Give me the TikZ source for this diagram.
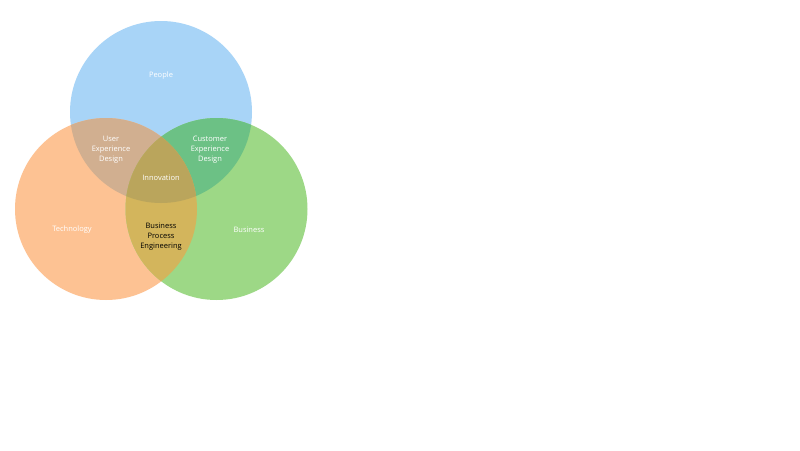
\documentclass[tikz,border=0pt]{standalone}
\usepackage{fontspec}
\setmainfont{Open Sans}
\usepackage{tikz}
\newcommand{\vennradius}{91}
\definecolor{myBlue}{HTML}{A8D4F7}
\definecolor{myOrange}{HTML}{FDC293}
\definecolor{myGreen}{HTML}{9DD886}
\definecolor{myBlueOrange}{HTML}{D1AF90}
\definecolor{myBlueGreen}{HTML}{6CC185}
\definecolor{myOrangeGreen}{HTML}{D3B55C}
\definecolor{myAll}{HTML}{BAA55C}
\usetikzlibrary{positioning}
\tikzset{
  x=1pt,y=-1pt,
  font=\fontsize{7.5}{10}\selectfont,
  label/.style={text=white,align=center,inner sep=0},
  darklabel/.style={label,text=black},
}

\begin{document}
\begin{tikzpicture}
      \useasboundingbox [fill=white] (0,0) rectangle (800,450);
      \coordinate (p) at (161,112);
      \coordinate (t) at (106,209);
      \coordinate (b) at (216.5,209);
      \fill [myBlue] (p) circle (\vennradius);
      \fill [myOrange] (t) circle (\vennradius);
      \fill [myGreen] (b) circle (\vennradius);
      \begin{scope}
        \clip (p) circle (\vennradius);
        \fill [myBlueOrange] (t) circle (\vennradius);
        \fill [myBlueGreen] (b) circle (\vennradius);
      \end{scope}
      \begin{scope}
        \clip (t) circle (\vennradius);
        \fill [myOrangeGreen] (b) circle (\vennradius);
        \clip (b) circle (\vennradius);
        \fill [myAll] (p) circle (\vennradius);
      \end{scope}
      \node (people) [label] at (161,76) {People};
      \node (tech) [label] at (72,230) {Technology};
      \node (business) [label] at (249,230) {Business};
      \node (ux) [label] at (111,150) {User\\Experience\\Design};
      \node (cx) [label] at (210,150) {Customer\\Experience\\Design};
      \node (innov) [label] at (161,178) {Innovation};
      \node (bpe) [darklabel] at (161,237) {Business\\Process\\Engineering};
    \end{tikzpicture}
\end{document}
